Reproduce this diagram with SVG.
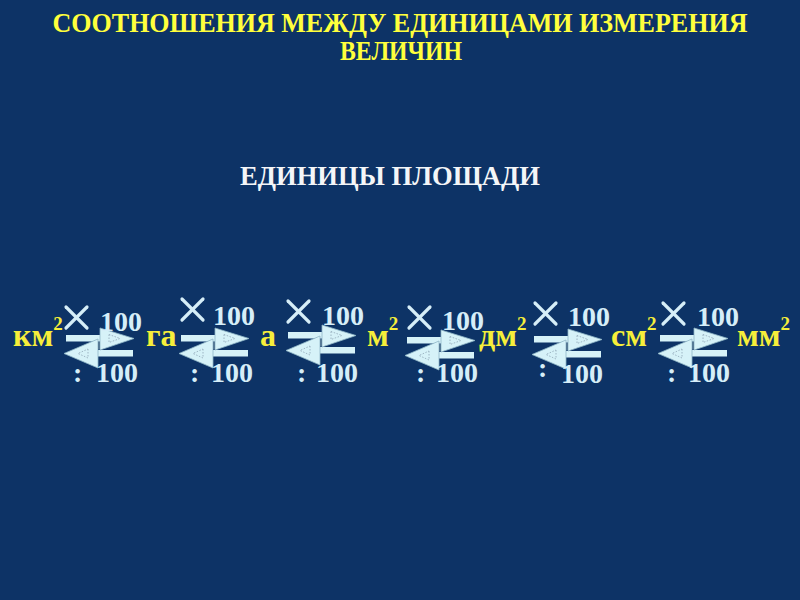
<svg xmlns="http://www.w3.org/2000/svg" xmlns:xlink="http://www.w3.org/1999/xlink" width="800" height="600" viewBox="0 0 800 600">
<style>
.title{font-family:"Liberation Serif","Times New Roman",serif;font-weight:bold;font-size:28px;fill:#ffff3c}
.sub{font-family:"Liberation Serif","Times New Roman",serif;font-weight:bold;font-size:27px;fill:#f4f6f8}
.unit{font-family:"Liberation Serif","Times New Roman",serif;font-weight:bold;font-size:32px;fill:#f6ee3a}
.sup{font-size:19px}
.num{font-family:"Liberation Serif","Times New Roman",serif;font-weight:bold;font-size:28px;fill:#d6eef8}
.cross{stroke:#d6eef8;stroke-width:3.2;stroke-linecap:round;fill:none}
.shaft{fill:#d6f2f8}
.head{fill:#d6f2f8;stroke:#8fb6c6;stroke-width:0.8}
.dash{fill:none;stroke:#8fa6b6;stroke-width:0.8;stroke-dasharray:1.5 1.5}
</style>
<defs>
<g id="arrows">
<rect class="shaft" x="0" y="-10" width="36" height="6.5"/>
<rect class="shaft" x="32" y="5" width="35" height="6.5"/>
<polygon class="head" points="32,-6 32,23 -2,8.5"/>
<polygon class="dash" points="22,4 22,13 12,8.5"/>
<polygon class="head" points="34,-17 34,5 68,-6.5"/>
<polygon class="dash" points="43,-10.5 43,-2.5 54,-6.5"/>
<line x1="33" y1="-3" x2="33" y2="4" stroke="#6d8ea0" stroke-width="1"/>
</g>
<g id="cross">
<line class="cross" x1="1" y1="0" x2="22" y2="21"/>
<line class="cross" x1="22" y1="0" x2="1" y2="21"/>
</g>
</defs>
<rect width="800" height="600" fill="#0d3366"/>
<g id="title">
<text class="title" x="400" y="32" text-anchor="middle" textLength="695" lengthAdjust="spacingAndGlyphs">СООТНОШЕНИЯ МЕЖДУ ЕДИНИЦАМИ ИЗМЕРЕНИЯ</text>
<text class="title" x="401" y="60" text-anchor="middle" textLength="122" lengthAdjust="spacingAndGlyphs">ВЕЛИЧИН</text>
</g>
<g id="subtitle">
<text class="sub" x="390" y="185" text-anchor="middle" textLength="300" lengthAdjust="spacingAndGlyphs">ЕДИНИЦЫ ПЛОЩАДИ</text>
</g>
<g id="units">
<g id="u-km2"><text class="unit" x="13" y="346">км<tspan class="sup" dy="-16">2</tspan></text></g>
<g id="u-ga"><text class="unit" x="146" y="346">га</text></g>
<g id="u-a"><text class="unit" x="260" y="346">а</text></g>
<g id="u-m2"><text class="unit" x="367" y="346">м<tspan class="sup" dy="-16">2</tspan></text></g>
<g id="u-dm2"><text class="unit" x="479" y="346">дм<tspan class="sup" dy="-16">2</tspan></text></g>
<g id="u-sm2"><text class="unit" x="611" y="346">см<tspan class="sup" dy="-16">2</tspan></text></g>
<g id="u-mm2"><text class="unit" x="737" y="346">мм<tspan class="sup" dy="-16">2</tspan></text></g>
</g>
<g id="connectors">
<g id="c1">
<use xlink:href="#cross" href="#cross" x="65" y="307"/>
<use xlink:href="#arrows" href="#arrows" transform="translate(66,345)"/>
<text class="num" x="100" y="331">100</text>
<text class="num" x="73" y="382">:</text><text class="num" x="96" y="382">100</text>
</g>
<g id="c2">
<use xlink:href="#cross" href="#cross" x="181" y="299"/>
<use xlink:href="#arrows" href="#arrows" transform="translate(181,345)"/>
<text class="num" x="213" y="325">100</text>
<text class="num" x="190" y="382">:</text><text class="num" x="211" y="382">100</text>
</g>
<g id="c3">
<use xlink:href="#cross" href="#cross" x="287" y="301"/>
<use xlink:href="#arrows" href="#arrows" transform="translate(288,342)"/>
<text class="num" x="322" y="325">100</text>
<text class="num" x="297" y="382">:</text><text class="num" x="316" y="382">100</text>
</g>
<g id="c4">
<use xlink:href="#cross" href="#cross" x="408" y="307"/>
<use xlink:href="#arrows" href="#arrows" transform="translate(407,347)"/>
<text class="num" x="442" y="330">100</text>
<text class="num" x="416" y="382">:</text><text class="num" x="436" y="382">100</text>
</g>
<g id="c5">
<use xlink:href="#cross" href="#cross" x="534" y="303"/>
<use xlink:href="#arrows" href="#arrows" transform="translate(534,346)"/>
<text class="num" x="568" y="326">100</text>
<text class="num" x="538" y="377">:</text><text class="num" x="561" y="383">100</text>
</g>
<g id="c6">
<use xlink:href="#cross" href="#cross" x="662" y="303"/>
<use xlink:href="#arrows" href="#arrows" transform="translate(660,345)"/>
<text class="num" x="697" y="326">100</text>
<text class="num" x="667" y="382">:</text><text class="num" x="688" y="382">100</text>
</g>
</g>
</svg>
